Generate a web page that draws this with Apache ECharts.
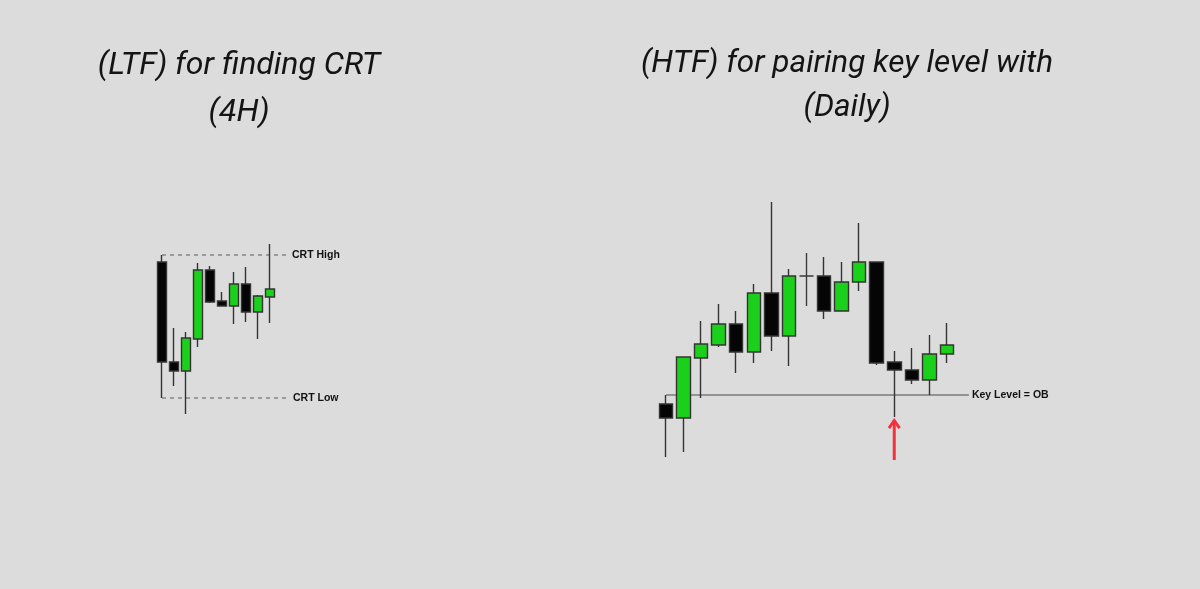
<!DOCTYPE html>
<html>
<head>
<meta charset="utf-8">
<title>CRT – LTF / HTF</title>
<script src="https://cdn.jsdelivr.net/npm/echarts@6/dist/echarts.min.js"></script>
<style>
  html, body { margin: 0; padding: 0; background: #dcdcdc; }
  #chart { width: 1200px; height: 589px; }
</style>
</head>
<body>
<div id="chart"></div>
<script>
// 4H candles: [open, close, low, high]
const ltfCandles = [
  [158, 58, 22, 165],
  [58, 49, 34, 92],
  [49, 82, 6, 88],
  [81, 150, 73, 157],
  [150, 118, 117, 154],
  [119, 114, 114, 128],
  [114, 136, 96, 148],
  [136, 108, 98, 153],
  [108, 124, 81, 125],
  [123, 131, 97, 176]
];
const ltfSlots = 12;          // two empty slots on the right hold the labels
const crtHigh = 165;
const crtLow = 22;

// Daily candles: [open, close, low, high]
const htfCandles = [
  [66, 52, 13, 75],
  [52, 113, 18, 113],
  [112, 126, 72, 149],
  [125, 146, 123, 166],
  [146, 118, 97, 159],
  [118, 177, 107, 186],
  [177, 134, 119, 268],
  [134, 194, 104, 201],
  [194, 194, 164, 217],
  [194, 159, 151, 213],
  [159, 188, 159, 208],
  [188, 208, 179, 247],
  [208, 107, 105, 208],
  [108, 100, 53, 119],
  [100, 90, 86, 122],
  [90, 116, 75, 135],
  [116, 125, 107, 147]
];
const htfSlots = 18;
const keyLevel = 75;
const sweepIndex = 13;        // candle that wicks through the key level
const arrowFrom = 10;
const arrowTo = 50;

const GREEN = '#1bd01b';
const BLACK = '#050505';
const WICK = '#333333';
const labelFont = { fontFamily: 'Liberation Sans', fontWeight: 'bold', fontSize: 10.5, color: '#111' };

function cats(n) { return Array.from({ length: n }, (_, i) => String(i + 1)); }

function candleSeries(data, xi, yi, width) {
  return {
    type: 'candlestick',
    xAxisIndex: xi,
    yAxisIndex: yi,
    data: data,
    barWidth: width,
    silent: true,
    itemStyle: {
      color: GREEN,
      color0: BLACK,
      borderColor: WICK,
      borderColor0: WICK,
      borderColorDoji: '#3a3a3a',
      borderWidth: 1.4
    },
    z: 3
  };
}

function levelLine(xi, yi, from, to, y, text, dashed, dist) {
  return {
    type: 'line',
    xAxisIndex: xi,
    yAxisIndex: yi,
    data: [[from, y], [to, y]],
    symbol: 'none',
    silent: true,
    lineStyle: { color: dashed ? '#5a5a5a' : '#4a4a4a', width: 1, type: dashed ? [4, 4] : 'solid' },
    endLabel: Object.assign({ show: true, formatter: text, distance: dist }, labelFont),
    z: 2
  };
}

const chart = echarts.init(document.getElementById('chart'), null, { renderer: 'canvas' });

chart.setOption({
  backgroundColor: '#dcdcdc',
  animation: false,
  title: [
    {
      text: '(LTF) for finding CRT\n(4H)',
      left: 234, top: 37, textAlign: 'center',
      textStyle: { fontFamily: 'Roboto', fontStyle: 'italic', fontWeight: 'normal', fontSize: 32, color: '#141414', lineHeight: 47 }
    },
    {
      text: '(HTF) for pairing key level with\n(Daily)',
      left: 842, top: 37, textAlign: 'center',
      textStyle: { fontFamily: 'Roboto', fontStyle: 'italic', fontWeight: 'normal', fontSize: 31.5, color: '#141414', lineHeight: 44 }
    }
  ],
  grid: [
    { left: 156, top: 240, width: 12 * ltfSlots, height: 180 },
    { left: 657.2, top: 190, width: 17.56 * htfSlots, height: 280 }
  ],
  xAxis: [
    { type: 'category', gridIndex: 0, data: cats(ltfSlots), show: false },
    { type: 'value', gridIndex: 0, min: 0, max: ltfSlots, show: false },
    { type: 'category', gridIndex: 1, data: cats(htfSlots), show: false },
    { type: 'value', gridIndex: 1, min: 0, max: htfSlots, show: false }
  ],
  yAxis: [
    { type: 'value', gridIndex: 0, min: 0, max: 180, show: false },
    { type: 'value', gridIndex: 1, min: 0, max: 280, show: false }
  ],
  series: [
    levelLine(1, 0, 0.5, 11, crtHigh, 'CRT High', true, 4),
    levelLine(1, 0, 0.5, 11, crtLow, 'CRT Low', true, 5),
    candleSeries(ltfCandles, 0, 0, 9),

    levelLine(3, 1, 0.5, 17.75, keyLevel, 'Key Level = OB', false, 3),
    candleSeries(htfCandles, 2, 1, 14),
    {
      type: 'line',
      xAxisIndex: 3,
      yAxisIndex: 1,
      silent: true,
      showSymbol: true,
      data: [
        { value: [sweepIndex + 0.5, arrowFrom], symbol: 'none' },
        {
          value: [sweepIndex + 0.5, arrowTo],
          symbol: 'path://M0,10 L6,0 L12,10 L9.8,12 L6,5.5 L2.2,12 Z',
          symbolSize: [13, 11],
          symbolOffset: [0, 3.5]
        }
      ],
      lineStyle: { color: '#f2313d', width: 3 },
      itemStyle: { color: '#f2313d' },
      z: 4
    }
  ]
});
</script>
</body>
</html>
